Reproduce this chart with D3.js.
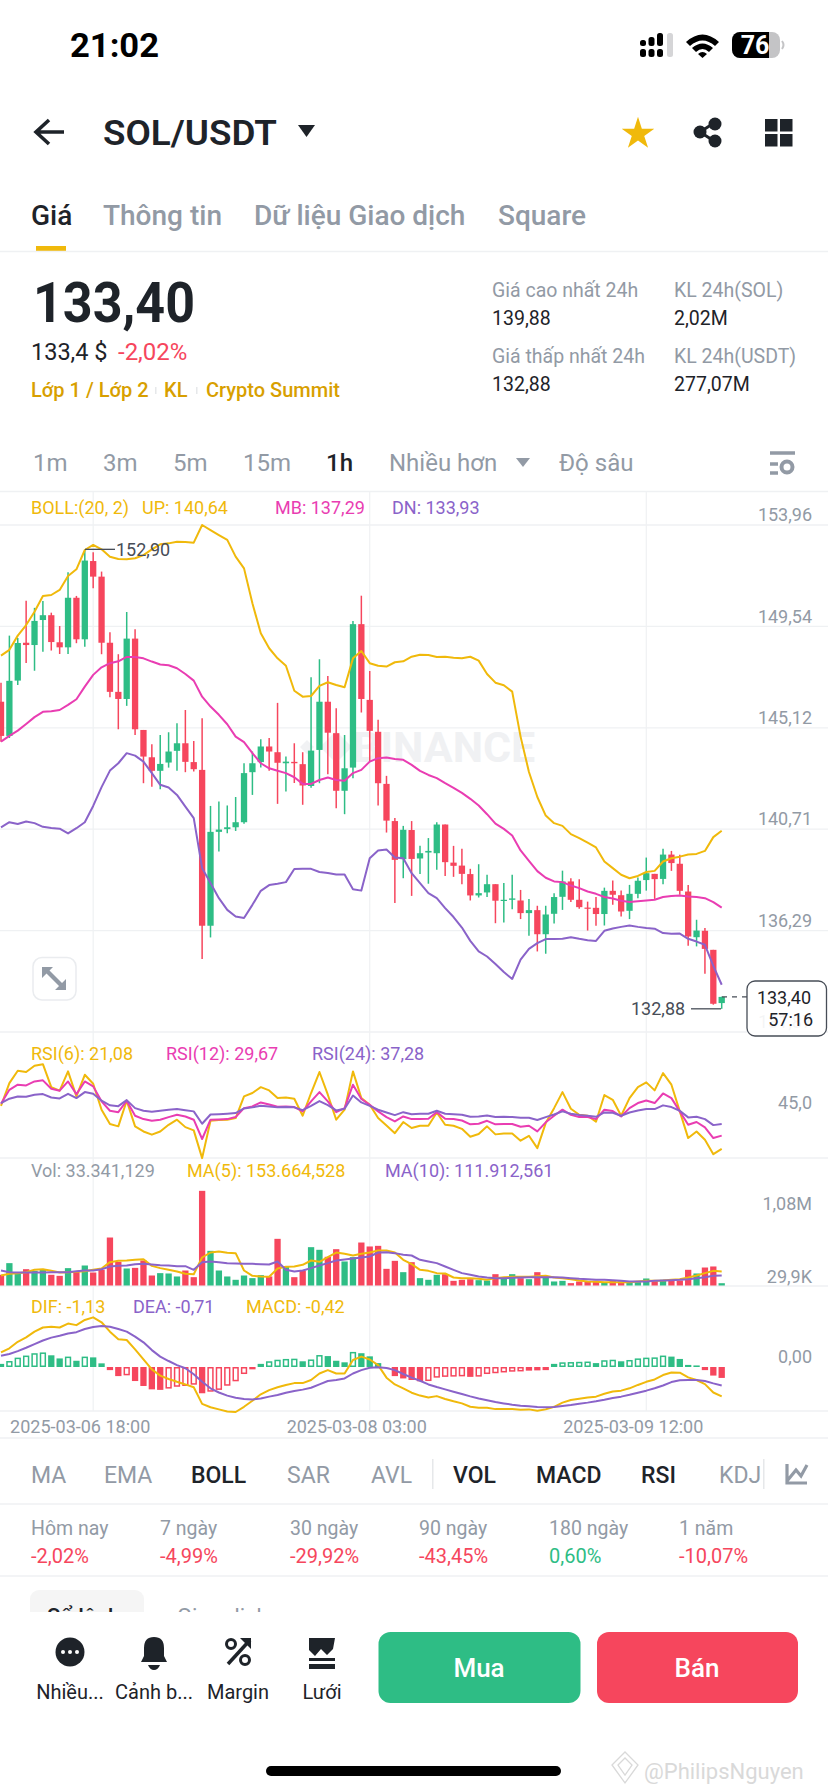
<!DOCTYPE html>
<html lang="vi">
<head>
<meta charset="utf-8">
<title>SOL/USDT</title>
<style>
body { margin: 0; background: #fff; }
svg { display: block; }
text { font-family: Roboto, sans-serif; }
</style>
</head>
<body>
<svg width="828" height="1792"></svg>
<script src="https://d3js.org/d3.v7.min.js"></script>
<script>

// one hourly candle per entry, 87 in all
const opens = [146.26,144.77,147.18,148.83,148.73,149.82,150.03,148.85,148.63,150.79,148.98,152.39,151.71,148.83,146.69,146.38,149.01,145.03,143.84,143.25,143.61,144.12,144.45,143.63,143.29,136.50,140.59,140.71,140.79,141.01,143.19,143.63,144.31,144.06,143.58,143.64,143.54,142.59,144.16,146.26,144.89,142.38,143.39,149.64,146.34,144.95,142.68,141.06,139.40,140.67,139.43,139.69,139.66,140.91,139.25,139.12,138.75,137.82,137.95,138.31,137.59,137.63,137.60,137.05,137.18,136.13,137.02,137.76,138.43,137.63,137.29,137.28,137.01,138.02,137.83,137.15,137.89,138.49,138.76,138.54,139.60,139.20,137.99,136.00,136.28,135.45,133.13];
const highs = [147.09,149.14,149.04,150.66,150.35,150.65,150.14,149.56,151.90,150.87,152.90,152.77,151.93,149.29,148.33,150.17,149.42,145.03,144.41,144.81,144.93,145.32,145.90,144.55,145.54,141.72,141.91,141.74,142.11,143.58,144.09,144.63,144.68,146.21,143.87,144.45,144.06,147.33,148.11,147.38,145.98,144.81,149.78,150.88,147.60,145.47,143.03,141.19,140.85,141.06,139.99,140.32,141.01,140.91,139.98,139.85,138.98,139.18,138.72,138.31,138.36,138.72,138.06,137.66,137.37,137.37,137.92,138.90,138.57,138.53,137.55,137.75,138.16,138.47,138.03,138.28,138.60,139.47,138.76,139.85,139.76,139.59,138.28,136.76,136.40,135.45,133.41];
const lows = [144.52,144.68,146.99,147.95,147.61,148.44,148.49,148.34,148.34,148.81,148.66,151.20,148.33,146.46,145.06,146.08,144.81,142.71,142.56,142.45,143.39,143.25,143.19,143.22,135.05,135.99,139.73,140.53,140.63,140.94,142.20,143.39,143.25,141.81,142.35,142.72,141.77,142.51,142.71,143.10,141.62,141.36,142.93,145.79,143.65,141.74,140.56,137.49,138.57,137.80,138.75,138.33,138.94,138.67,138.63,138.31,137.60,137.73,137.75,136.61,136.64,137.22,136.79,136.06,135.38,135.28,136.60,137.19,137.53,137.24,136.29,136.50,136.51,137.41,136.90,136.79,137.70,138.03,137.67,138.31,138.89,137.85,135.63,135.60,134.41,133.06,132.88];
const closes = [144.77,147.17,148.82,148.73,149.78,150.03,148.86,148.63,150.79,148.98,152.41,151.71,148.83,146.69,146.38,149.01,145.06,143.87,143.25,143.55,144.09,144.45,143.64,143.32,136.50,140.59,140.69,140.79,141.01,143.15,143.58,144.31,144.09,143.60,143.65,143.58,142.61,144.13,146.26,144.91,142.38,143.36,149.64,146.38,144.99,142.71,141.08,139.37,140.68,139.41,139.66,139.76,140.91,139.27,139.11,138.76,137.82,137.92,138.31,137.59,137.63,137.69,137.05,137.18,136.13,136.99,137.75,138.43,137.63,137.31,137.25,137.01,138.02,137.85,137.12,137.89,138.46,138.79,138.53,139.60,139.23,138.02,136.03,136.29,135.49,133.10,133.40];

const bollUp = [148.27,148.52,149.14,149.60,150.18,150.87,150.91,151.13,151.74,152.03,152.87,153.09,152.90,152.58,152.48,152.47,152.51,152.65,152.90,153.12,153.16,153.23,153.22,153.19,153.96,153.74,153.52,153.31,152.58,152.07,150.55,149.24,148.59,148.15,147.83,146.74,146.48,146.51,146.95,147.11,146.99,146.89,148.15,148.47,147.94,147.83,147.79,147.98,148.02,148.22,148.31,148.30,148.21,148.22,148.18,148.15,148.22,148.05,147.47,147.09,146.98,146.70,144.74,143.20,142.11,141.30,140.97,140.85,140.49,140.32,140.12,139.91,139.30,139.01,138.72,138.57,138.67,138.84,138.89,139.30,139.44,139.51,139.60,139.63,139.76,140.36,140.64];
const bollMid = [144.52,144.77,145.00,145.29,145.59,145.82,145.85,145.90,146.12,146.37,146.92,147.43,147.76,147.94,148.02,148.21,148.21,148.15,148.01,147.88,147.85,147.72,147.47,147.18,146.48,146.05,145.69,145.28,144.74,144.50,144.02,143.58,143.36,143.25,143.15,142.97,142.68,142.68,142.85,142.96,142.85,142.82,143.15,143.29,143.65,143.80,143.83,143.76,143.73,143.51,143.25,143.07,142.93,142.71,142.51,142.29,142.03,141.74,141.36,140.95,140.72,140.43,139.78,139.33,138.88,138.59,138.43,138.40,138.25,138.14,137.99,137.89,137.75,137.69,137.59,137.53,137.57,137.60,137.63,137.75,137.80,137.82,137.77,137.75,137.70,137.53,137.29];
const bollDn = [140.79,141.01,140.93,141.04,140.97,140.81,140.76,140.73,140.52,140.75,141.01,141.72,142.54,143.26,143.58,144.02,143.91,143.65,143.15,142.64,142.52,142.20,141.69,141.19,139.01,138.36,137.70,137.19,136.90,136.84,137.41,138.02,138.27,138.33,138.40,138.97,138.98,138.98,138.84,138.80,138.73,138.73,138.09,138.03,139.44,139.78,139.82,139.47,139.44,138.79,138.36,137.92,137.70,137.27,136.88,136.42,135.84,135.38,135.16,134.83,134.48,134.18,135.02,135.49,135.74,135.92,135.92,135.93,136.00,135.93,135.87,135.84,136.28,136.38,136.45,136.51,136.45,136.40,136.37,136.18,136.15,136.16,135.93,135.81,135.67,134.75,133.93];

const rsi6 = [49.0,63.7,71.7,70.9,75.0,76.0,61.1,58.8,71.3,55.1,69.1,63.3,46.5,37.2,35.7,52.3,35.7,32.4,30.3,32.4,36.7,40.0,35.2,33.1,15.1,39.3,39.8,40.0,41.1,55.1,57.3,61.1,59.0,54.0,54.4,53.6,42.6,57.3,70.9,56.2,40.0,46.5,71.3,54.0,49.7,41.1,36.3,31.3,38.5,34.6,36.1,36.1,44.7,36.7,36.1,34.1,29.0,30.7,35.7,30.5,31.1,31.1,26.4,29.6,21.6,37.8,47.5,57.9,47.1,43.2,42.6,38.7,56.0,52.9,42.6,54.0,61.1,64.2,59.0,70.2,62.7,45.4,28.1,32.4,27.0,17.7,21.08];
const rsi12 = [50.3,59.4,62.7,62.2,64.8,65.5,60.1,58.8,64.8,56.6,64.8,61.6,51.9,45.8,44.9,52.3,42.6,40.4,39.3,40.0,41.7,43.2,42.1,40.0,27.5,40.0,40.2,40.4,41.7,47.5,48.6,51.2,49.9,48.4,48.6,48.2,45.4,51.9,57.9,51.9,44.9,47.5,62.7,53.4,49.7,45.4,41.7,38.9,42.1,40.4,40.4,40.6,44.9,40.6,40.4,39.5,37.0,37.4,39.3,37.0,37.2,37.2,35.4,36.1,32.4,38.3,42.6,46.5,43.2,41.7,41.7,40.4,46.5,45.6,42.1,47.5,50.8,52.5,50.8,57.0,54.0,45.4,36.7,38.5,35.0,28.1,29.67];
const rsi24 = [50.8,53.6,55.1,54.9,56.2,56.6,54.4,53.8,56.8,54.0,57.9,56.8,52.3,49.3,48.8,52.7,47.5,45.8,45.2,45.8,46.5,46.9,46.2,45.4,37.4,43.4,43.6,43.9,44.3,47.3,48.0,49.0,48.6,48.0,48.2,48.0,46.2,49.0,52.1,49.5,46.0,47.1,55.7,51.2,49.0,46.5,44.7,43.0,44.9,43.6,43.9,43.9,45.8,43.9,43.6,43.2,41.9,42.1,42.8,41.7,41.9,41.7,41.3,41.3,39.8,41.7,43.4,45.4,43.9,43.0,42.6,41.9,44.7,44.5,42.6,44.7,46.0,46.9,46.9,49.3,48.2,45.8,41.5,41.9,40.4,36.5,37.28];

// volumes in thousands of SOL
const volumes = [154,322,192,235,211,226,154,139,250,202,288,187,226,691,341,245,254,360,144,178,173,130,216,120,1363,499,216,130,82,144,106,149,130,672,274,120,216,552,514,413,523,346,408,619,562,571,240,355,192,336,106,82,154,163,67,82,91,77,72,163,101,163,106,91,192,120,58,67,34,58,58,67,48,67,58,48,48,101,72,82,82,72,226,173,259,274,33];
const volMa5 = [144,168,178,192,226,235,211,187,192,197,206,226,245,336,355,360,370,379,283,250,226,202,168,163,403,475,490,470,466,216,139,130,125,245,269,274,298,360,341,408,475,456,432,456,475,504,504,475,370,307,226,211,178,173,115,106,106,96,82,106,120,125,125,125,134,139,115,106,91,72,58,53,48,48,48,48,58,67,67,72,82,91,115,144,178,211,202];
const volMa10 = [216,192,187,187,187,187,192,192,192,206,216,216,235,274,283,288,307,312,302,293,288,278,278,226,336,346,336,322,317,312,312,307,302,346,226,202,216,250,288,322,360,374,389,403,418,475,480,466,442,432,370,346,322,274,226,178,154,130,115,106,106,110,115,120,120,120,120,115,106,96,91,82,82,77,67,58,58,58,67,72,77,82,91,106,120,139,144];

const dif = [0.56,0.72,0.97,1.14,1.36,1.52,1.55,1.52,1.67,1.61,1.81,1.91,1.72,1.36,1.07,1.04,0.68,0.29,-0.09,-0.33,-0.46,-0.57,-0.67,-0.78,-1.42,-1.55,-1.63,-1.71,-1.73,-1.53,-1.30,-1.05,-0.89,-0.78,-0.69,-0.62,-0.62,-0.50,-0.25,-0.12,-0.25,-0.25,0.27,0.40,0.29,0.07,-0.41,-0.67,-0.82,-0.99,-1.10,-1.17,-1.12,-1.23,-1.32,-1.40,-1.53,-1.57,-1.57,-1.62,-1.62,-1.62,-1.64,-1.63,-1.68,-1.63,-1.53,-1.37,-1.27,-1.22,-1.17,-1.14,-1.03,-0.94,-0.91,-0.82,-0.69,-0.57,-0.48,-0.31,-0.21,-0.22,-0.40,-0.50,-0.66,-0.98,-1.13];
const dea = [0.43,0.50,0.61,0.74,0.88,1.02,1.13,1.20,1.29,1.34,1.46,1.54,1.58,1.55,1.46,1.36,1.17,0.95,0.65,0.40,0.23,0.07,-0.05,-0.28,-0.57,-0.82,-0.98,-1.10,-1.18,-1.23,-1.25,-1.21,-1.14,-1.08,-0.99,-0.92,-0.87,-0.80,-0.67,-0.54,-0.50,-0.44,-0.25,-0.12,-0.03,-0.01,-0.04,-0.12,-0.27,-0.41,-0.53,-0.67,-0.77,-0.86,-0.95,-1.04,-1.13,-1.21,-1.28,-1.35,-1.40,-1.45,-1.49,-1.51,-1.54,-1.55,-1.54,-1.50,-1.46,-1.41,-1.37,-1.32,-1.26,-1.19,-1.14,-1.07,-0.99,-0.91,-0.82,-0.71,-0.58,-0.51,-0.50,-0.50,-0.54,-0.63,-0.71];
const macdHist = [0.12,0.23,0.36,0.44,0.53,0.56,0.45,0.33,0.40,0.24,0.40,0.37,0.14,-0.12,-0.35,-0.32,-0.54,-0.73,-0.86,-0.88,-0.83,-0.76,-0.73,-0.68,-1.01,-0.95,-0.88,-0.72,-0.55,-0.27,-0.09,0.12,0.22,0.28,0.31,0.32,0.22,0.29,0.46,0.42,0.24,0.18,0.58,0.53,0.41,0.15,-0.01,-0.35,-0.44,-0.50,-0.55,-0.54,-0.41,-0.38,-0.37,-0.36,-0.38,-0.37,-0.27,-0.24,-0.21,-0.18,-0.17,-0.14,-0.13,-0.12,0.12,0.18,0.19,0.20,0.21,0.15,0.26,0.28,0.22,0.27,0.33,0.36,0.37,0.44,0.40,0.31,0.08,0.06,-0.12,-0.33,-0.42];

const priceTicks = [153.96, 149.54, 145.12, 140.71, 136.29, 131.87];
const timeTickIdx = [11, 44, 77];
const timeTickLabels = ['2025-03-06 18:00', '2025-03-08 03:00', '2025-03-09 12:00'];

const GREEN = '#2ebd85', RED = '#f6465d', YELLOW = '#f0b90b', PINK = '#e93db2', PURPLE = '#8a63c9';
const INK = '#1e2329', GREY = '#929aa5', LINE = '#eff1f3';
const comma = (v, n) => v.toFixed(n).replace('.', ',');

const svg = d3.select('svg');

const x = d3.scaleLinear().domain([0, 86]).range([1, 721.7]);
const yPrice = d3.scaleLinear().domain([153.96, 131.87]).range([525, 1032]);
const yRsi = d3.scaleLinear().domain([45, 15]).range([1112, 1158.3]);
const yVol = d3.scaleLinear().domain([0, 1080]).range([1285.5, 1210.5]);
const yMacd = d3.scaleLinear().domain([0, -1.5]).range([1367, 1406]);

function label(px, py, str, opts) {
  opts = opts || {};
  const t = svg.append('text')
    .attr('x', px).attr('y', py).attr('dy', '0.35em')
    .attr('text-anchor', opts.anchor || 'start')
    .attr('font-size', opts.size || 18)
    .attr('font-weight', opts.weight || 400)
    .attr('fill', opts.color || GREY)
    .text(str);
  if (opts.width) t.attr('textLength', opts.width).attr('lengthAdjust', 'spacingAndGlyphs');
  return t;
}

function hline(py, x0, x1, color) {
  svg.append('line').attr('x1', x0 === undefined ? 0 : x0).attr('x2', x1 === undefined ? 828 : x1)
    .attr('y1', py).attr('y2', py).attr('stroke', color || LINE).attr('stroke-width', 1.3);
}

function drawLine(values, yScale, color) {
  svg.append('path').datum(values)
    .attr('fill', 'none').attr('stroke', color).attr('stroke-width', 2).attr('stroke-linejoin', 'round')
    .attr('d', d3.line().x((d, i) => x(i)).y(d => yScale(d)));
}

// ---- status bar and header
label(70, 45, '21:02', { size: 34, weight: 700, color: '#000', width: 89 });
[[640, 40], [648.5, 37], [657, 33]].forEach(c => {
  svg.append('rect').attr('x', c[0]).attr('y', 49).attr('width', 6).attr('height', 8).attr('rx', 2.5).attr('fill', '#000');
  svg.append('rect').attr('x', c[0]).attr('y', c[1]).attr('width', 6).attr('height', 46 - c[1]).attr('rx', 2.5).attr('fill', '#000');
});
svg.append('rect').attr('x', 667).attr('y', 33).attr('width', 6).attr('height', 24).attr('rx', 2.5).attr('fill', '#d5d5d7');
svg.append('path').attr('d', 'M686 42 Q702.5 27 719 42 L715 46 Q702.5 35 690 46 Z M692 48 Q702.5 39 713 48 L709 52 Q702.5 46 696 52 Z M698 54 Q702.5 50 707 54 L702.5 58 Z').attr('fill', '#000');
svg.append('rect').attr('x', 732).attr('y', 32).attr('width', 48).attr('height', 26).attr('rx', 8).attr('fill', '#c4c4c6');
svg.append('path').attr('d', 'M740 32 H769 V58 H740 A8 8 0 0 1 732 50 V40 A8 8 0 0 1 740 32 Z').attr('fill', '#000');
svg.append('path').attr('d', 'M782 41 Q785 45 782 49').attr('fill', 'none').attr('stroke', '#c4c4c6').attr('stroke-width', 2);
label(755, 45, '76', { size: 25, weight: 700, color: '#fff', anchor: 'middle' });

svg.append('path').attr('d', 'M64 132 H37 M49 120 L36 132 L49 144').attr('fill', 'none').attr('stroke', INK).attr('stroke-width', 3.6);
label(103, 133, 'SOL/USDT', { size: 35, weight: 600, color: INK, width: 174 });
svg.append('path').attr('d', 'M298 125 H315 L306.5 137 Z').attr('fill', INK);
svg.append('path').attr('transform', 'translate(638,134)').attr('d', d3.symbol(d3.symbolStar, 330)()).attr('fill', YELLOW);
svg.append('path').attr('d', 'M714 123 L700 132 L714 141').attr('fill', 'none').attr('stroke', INK).attr('stroke-width', 3);
[[715, 124], [700, 132], [715, 141]].forEach(c => svg.append('circle').attr('cx', c[0]).attr('cy', c[1]).attr('r', 6.5).attr('fill', INK));
[[765, 119], [780, 119], [765, 134], [780, 134]].forEach(c => svg.append('rect').attr('x', c[0]).attr('y', c[1]).attr('width', 12.5).attr('height', 12.5).attr('fill', INK));

[['Giá', 31, INK], ['Thông tin', 103, GREY], ['Dữ liệu Giao dịch', 254, GREY], ['Square', 498, GREY]].forEach(t => {
  label(t[1], 215, t[0], { size: 28, weight: 500, color: t[2] });
});
svg.append('rect').attr('x', 36).attr('y', 246).attr('width', 30).attr('height', 5).attr('fill', YELLOW);
hline(251.5);

label(33, 302, '133,40', { size: 56, weight: 700, color: INK, width: 162 });
label(31, 352, '133,4 $', { size: 23.5, color: INK });
label(118, 352, '-2,02%', { size: 24, color: RED });
[['Lớp 1 / Lớp 2', 31], ['KL', 164], ['Crypto Summit', 206]].forEach(t => label(t[1], 390, t[0], { size: 20, weight: 500, color: '#d89f00' }));
svg.append('rect').attr('x', 155).attr('y', 387).attr('width', 1.5).attr('height', 7).attr('fill', '#e6e8ea');
svg.append('rect').attr('x', 196).attr('y', 387).attr('width', 1.5).attr('height', 7).attr('fill', '#e6e8ea');

[['Giá cao nhất 24h', '139,88', 492, 290], ['Giá thấp nhất 24h', '132,88', 492, 356], ['KL 24h(SOL)', '2,02M', 674, 290], ['KL 24h(USDT)', '277,07M', 674, 356]].forEach(s => {
  label(s[2], s[3], s[0], { size: 19.5 });
  label(s[2], s[3] + 28, s[1], { size: 19.5, color: INK });
});

[['1m', 33], ['3m', 103], ['5m', 173], ['15m', 243], ['Nhiều hơn', 389], ['Độ sâu', 559]].forEach(t => label(t[1], 463, t[0], { size: 24 }));
label(326, 463, '1h', { size: 24, weight: 500, color: INK });
svg.append('path').attr('d', 'M516 458 H530 L523 467 Z').attr('fill', GREY);
svg.append('path').attr('d', 'M770 453 H795 M770 464 H778 M770 473 H778').attr('stroke', GREY).attr('stroke-width', 3.5);
svg.append('circle').attr('cx', 787).attr('cy', 467).attr('r', 5.5).attr('fill', 'none').attr('stroke', GREY).attr('stroke-width', 4);

// ---- chart frame
hline(491.5);
priceTicks.forEach(t => hline(yPrice(t)));
hline(1158);
hline(1286);
hline(1411);
hline(1438);
timeTickIdx.forEach(i => {
  svg.append('line').attr('x1', x(i)).attr('x2', x(i)).attr('y1', 491).attr('y2', 1411).attr('stroke', LINE).attr('stroke-width', 1.2);
});

// faint mark behind the candles
label(353, 747, 'BINANCE', { size: 43, weight: 700, color: '#f0f1f3' });
svg.append('path').attr('d', 'M320 747 L336 731 L352 747 L336 763 Z M300 747 L307 740 L314 747 L307 754 Z').attr('fill', '#f1f2f4');

priceTicks.forEach(t => label(812, yPrice(t) - 10, comma(t, 2), { size: 18, anchor: 'end' }));

// ---- candles
const indices = d3.range(opens.length);
const colorAt = i => closes[i] >= opens[i] ? GREEN : RED;
const BAR_W = 6.3;

svg.append('g').selectAll('line').data(indices).join('line')
  .attr('x1', i => x(i)).attr('x2', i => x(i))
  .attr('y1', i => yPrice(highs[i])).attr('y2', i => yPrice(lows[i]))
  .attr('stroke', colorAt).attr('stroke-width', 1.5);

svg.append('g').selectAll('rect').data(indices).join('rect')
  .attr('x', i => x(i) - BAR_W / 2).attr('width', BAR_W)
  .attr('y', i => yPrice(Math.max(opens[i], closes[i])))
  .attr('height', i => Math.max(1.2, Math.abs(yPrice(opens[i]) - yPrice(closes[i]))))
  .attr('fill', colorAt);

drawLine(bollUp, yPrice, YELLOW);
drawLine(bollMid, yPrice, PINK);
drawLine(bollDn, yPrice, PURPLE);

label(31, 507.5, 'BOLL:(20, 2)', { color: YELLOW });
label(142, 507.5, 'UP: 140,64', { color: YELLOW });
label(275, 507.5, 'MB: 137,29', { color: PINK });
label(392, 507.5, 'DN: 133,93', { color: PURPLE });

// high / low markers and the live price box
hline(yPrice(152.9), 85, 115, '#474d57');
label(116, yPrice(152.9), '152,90', { color: '#474d57' });
hline(yPrice(132.88), 691, 721, '#474d57');
label(631, yPrice(132.88), '132,88', { color: '#474d57' });
svg.append('line').attr('x1', 722).attr('x2', 747).attr('y1', yPrice(133.4)).attr('y2', yPrice(133.4))
  .attr('stroke', '#474d57').attr('stroke-width', 1.2).attr('stroke-dasharray', '5 5');
svg.append('rect').attr('x', 747).attr('y', 981).attr('width', 79.5).attr('height', 55).attr('rx', 8)
  .attr('fill', '#fff').attr('fill-opacity', 0.9).attr('stroke', '#474d57').attr('stroke-width', 1.3);
label(811, 998, '133,40', { color: INK, anchor: 'end' });
label(813, 1020, '57:16', { color: INK, anchor: 'end' });

// expand button
svg.append('rect').attr('x', 33).attr('y', 957.5).attr('width', 43).attr('height', 42.5).attr('rx', 9)
  .attr('fill', '#fff').attr('stroke', '#eaecef').attr('stroke-width', 1.5);
svg.append('path').attr('d', 'M42 967 H53 L49.5 970.5 L66 987 L66 990 H63 L46.5 973.5 L42 978 Z M66 979 V990 H55 Z').attr('fill', GREY);

// ---- RSI pane
drawLine(rsi6, yRsi, YELLOW);
drawLine(rsi12, yRsi, PINK);
drawLine(rsi24, yRsi, PURPLE);
label(31, 1054, 'RSI(6): 21,08', { color: YELLOW });
label(166, 1054, 'RSI(12): 29,67', { color: PINK });
label(312, 1054, 'RSI(24): 37,28', { color: PURPLE });
label(812, yRsi(45) - 9, '45,0', { anchor: 'end' });

// ---- volume pane
svg.append('g').selectAll('rect').data(volumes).join('rect')
  .attr('x', (d, i) => x(i) - BAR_W / 2).attr('width', BAR_W)
  .attr('y', d => yVol(d)).attr('height', d => yVol(0) - yVol(d))
  .attr('fill', (d, i) => colorAt(i));
drawLine(volMa5, yVol, YELLOW);
drawLine(volMa10, yVol, PURPLE);
label(31, 1171, 'Vol: 33.341,129');
label(187, 1171, 'MA(5): 153.664,528', { color: YELLOW });
label(385, 1171, 'MA(10): 111.912,561', { color: PURPLE });
label(812, yVol(1080) - 7, '1,08M', { anchor: 'end' });
label(812, yVol(29.9) - 7, '29,9K', { anchor: 'end' });

// ---- MACD pane, bars are hollow while the histogram is rising
svg.append('g').selectAll('rect').data(macdHist).join('rect')
  .each(function (d, i) {
    const hollow = i > 0 && d > macdHist[i - 1] && Math.abs(yMacd(d) - yMacd(0)) > 4;
    const c = d >= 0 ? GREEN : RED;
    const top = Math.min(yMacd(d), yMacd(0));
    const h = Math.abs(yMacd(d) - yMacd(0));
    d3.select(this)
      .attr('x', x(i) - BAR_W / 2 + (hollow ? 0.75 : 0)).attr('width', BAR_W - (hollow ? 1.5 : 0))
      .attr('y', top + (hollow ? 0.75 : 0)).attr('height', Math.max(0, h - (hollow ? 1.5 : 0)))
      .attr('fill', hollow ? '#fff' : c)
      .attr('stroke', hollow ? c : 'none').attr('stroke-width', 1.5);
  });
drawLine(dif, yMacd, YELLOW);
drawLine(dea, yMacd, PURPLE);
label(31, 1307, 'DIF: -1,13', { color: YELLOW });
label(133, 1307, 'DEA: -0,71', { color: PURPLE });
label(246, 1307, 'MACD: -0,42', { color: YELLOW });
label(812, yMacd(0) - 10, '0,00', { anchor: 'end' });

timeTickIdx.forEach((i, k) => label(x(i) - 13, 1427, timeTickLabels[k], { anchor: 'middle' }));

// ---- indicator tabs
[['MA', 31, 0], ['EMA', 104, 0], ['BOLL', 191, 1], ['SAR', 287, 0], ['AVL', 371, 0], ['VOL', 453, 1], ['MACD', 536, 1], ['RSI', 641, 1], ['KDJ', 719, 0]].forEach(t => {
  label(t[1], 1475, t[0], { size: 23, weight: t[2] ? 500 : 400, color: t[2] ? INK : GREY });
});
svg.append('rect').attr('x', 432).attr('y', 1459).attr('width', 1.5).attr('height', 30).attr('fill', '#e6e8ea');
svg.append('rect').attr('x', 763).attr('y', 1459).attr('width', 1.5).attr('height', 30).attr('fill', '#e6e8ea');
svg.append('path').attr('d', 'M787 1464 V1483 H807 M787 1481 L796 1470 L801 1476 L807 1465').attr('fill', 'none').attr('stroke', GREY).attr('stroke-width', 3.2);
hline(1504);

// ---- period changes
const periodLabels = ['Hôm nay', '7 ngày', '30 ngày', '90 ngày', '180 ngày', '1 năm'];
const periodValues = [-2.02, -4.99, -29.92, -43.45, 0.60, -10.07];
const periodX = [31, 160, 290, 419, 549, 679];
periodLabels.forEach((t, i) => {
  label(periodX[i], 1528, t, { size: 19.5 });
  label(periodX[i], 1556, comma(periodValues[i], 2) + '%', { size: 20, color: periodValues[i] < 0 ? RED : GREEN });
});
hline(1576);

// ---- clipped tab row under the footer
svg.append('rect').attr('x', 30).attr('y', 1590).attr('width', 114).attr('height', 40).attr('rx', 9).attr('fill', '#f5f5f5');
label(47, 1616, 'Sổ lệnh', { size: 22, weight: 500, color: INK });
label(177, 1616, 'Giao dịch', { size: 22 });

// ---- footer
svg.append('rect').attr('x', 0).attr('y', 1612).attr('width', 828).attr('height', 180).attr('fill', '#fff');

svg.append('circle').attr('cx', 70).attr('cy', 1652).attr('r', 14.5).attr('fill', INK);
[63, 70, 77].forEach(c => svg.append('circle').attr('cx', c).attr('cy', 1652).attr('r', 2).attr('fill', '#fff'));
svg.append('path').attr('d', 'M141 1662 L144 1656 V1648 Q144 1637 154 1637 Q164 1637 164 1648 V1656 L167 1662 Z M148 1665 H160 Q158 1670 154 1670 Q150 1670 148 1665 Z').attr('fill', INK);
svg.append('path').attr('d', 'M228 1664 L250 1640').attr('stroke', INK).attr('stroke-width', 3.5);
svg.append('path').attr('d', 'M240 1638 H251 V1649 Z').attr('fill', INK);
svg.append('circle').attr('cx', 231).attr('cy', 1644).attr('r', 4.5).attr('fill', 'none').attr('stroke', INK).attr('stroke-width', 3);
svg.append('circle').attr('cx', 245).attr('cy', 1660).attr('r', 4.5).attr('fill', 'none').attr('stroke', INK).attr('stroke-width', 3);
svg.append('path').attr('d', 'M309 1638 H335 L333 1649 L327 1655 L321 1649 L315 1656 L309 1650 Z').attr('fill', INK);
svg.append('rect').attr('x', 309).attr('y', 1658).attr('width', 26).attr('height', 3).attr('fill', INK);
svg.append('rect').attr('x', 309).attr('y', 1664).attr('width', 26).attr('height', 5).attr('fill', INK);

[['Nhiều...', 70], ['Cảnh b...', 154], ['Margin', 238], ['Lưới', 322]].forEach(t => label(t[1], 1692, t[0], { size: 20, color: INK, anchor: 'middle' }));

svg.append('rect').attr('x', 378.5).attr('y', 1632).attr('width', 202).attr('height', 71).attr('rx', 12).attr('fill', GREEN);
svg.append('rect').attr('x', 597).attr('y', 1632).attr('width', 201).attr('height', 71).attr('rx', 12).attr('fill', RED);
label(479, 1668, 'Mua', { size: 26, weight: 500, color: '#fff', anchor: 'middle' });
label(697, 1668, 'Bán', { size: 26, weight: 500, color: '#fff', anchor: 'middle' });

svg.append('rect').attr('x', 266).attr('y', 1766).attr('width', 295).attr('height', 10).attr('rx', 5).attr('fill', '#000');

// watermark
label(644, 1771, '@PhilipsNguyen', { size: 22, color: '#d9d9d9' });
svg.append('path').attr('d', 'M612 1765 L625 1752 L638 1765 L625 1783 Z M618 1765 L625 1758 L632 1765 L625 1775 Z').attr('fill', 'none').attr('stroke', '#d9d9d9').attr('stroke-width', 1.3);

</script>
</body>
</html>
